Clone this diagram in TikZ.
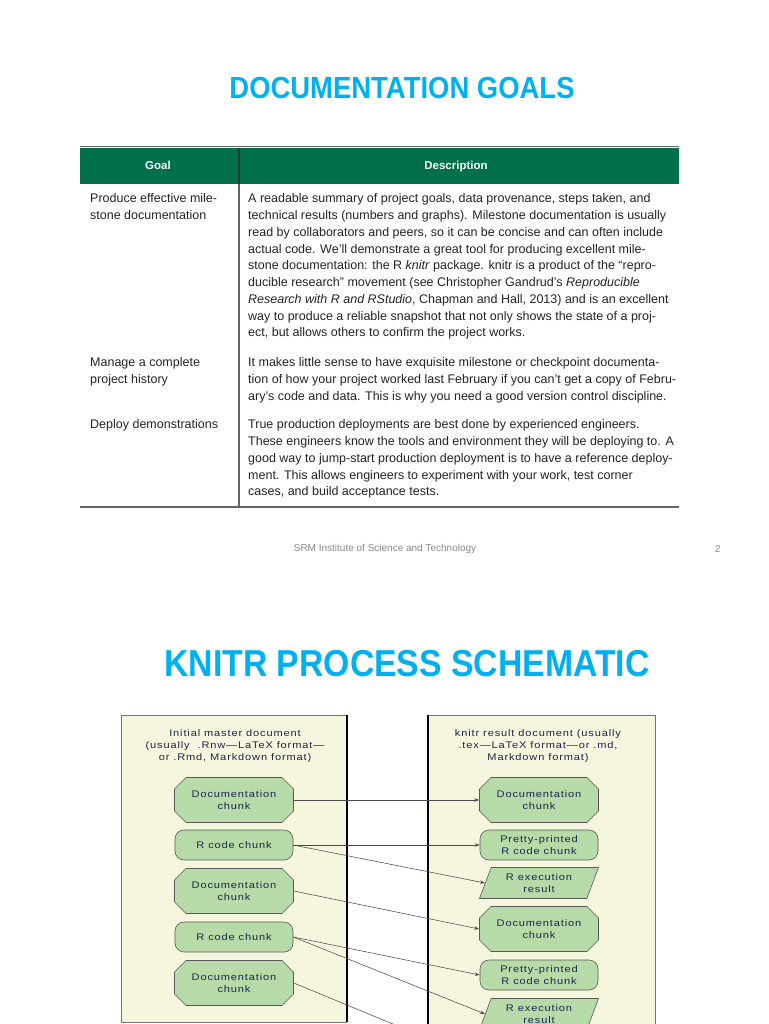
\documentclass[tikz,border=0pt]{standalone}
\usepackage{fontspec}
\setmainfont{Liberation Sans}
\newfontfamily\headfont{Liberation Sans}[FakeStretch=0.9]
\newfontfamily\chartfont{Liberation Sans}[FakeStretch=1.15,LetterSpace=9]
\usetikzlibrary{shapes.misc,shapes.geometric,arrows.meta}
\definecolor{slidecyan}{RGB}{0,176,240}
\definecolor{tablegreen}{RGB}{0,112,74}
\definecolor{rulegray}{RGB}{100,100,100}
\definecolor{bodygray}{RGB}{35,35,35}
\definecolor{footgray}{RGB}{137,137,137}
\definecolor{panelcream}{RGB}{246,246,222}
\definecolor{chunkgreen}{RGB}{183,219,168}
\definecolor{inkblue}{RGB}{30,35,80}

\begin{document}
\begin{tikzpicture}[x=1pt, y=-1pt,
        slidetitle/.style={text=slidecyan, inner sep=0pt},
        headcell/.style={anchor=base, text=white, font=\bfseries\fontsize{11.5}{13}\selectfont},
        cell/.style={anchor=north west, inner sep=0pt, align=left, text=bodygray, font=\fontsize{12.5}{16.75}\selectfont},
        footer/.style={text=footgray, font=\fontsize{10}{12}\selectfont},
        paneltext/.style={align=center, text=inkblue, font=\chartfont\fontsize{9.6}{12}\selectfont},
        chunk/.style={draw=black!65, line width=.6pt, fill=chunkgreen, text=inkblue, align=center, inner sep=1pt, font=\chartfont\fontsize{9.6}{12}\selectfont},
        docchunk/.style={chunk, chamfered rectangle, chamfered rectangle xsep=8pt, minimum width=119pt, minimum height=45pt},
        codechunk/.style={chunk, rectangle, rounded corners=9pt, minimum width=118pt, minimum height=30pt},
        resultchunk/.style={chunk, trapezium, trapezium left angle=61, trapezium right angle=119, trapezium stretches body, minimum width=119pt, minimum height=31pt},
        link/.style={draw=black!70, line width=.55pt, -{Stealth[length=5pt,width=3.5pt]}}
    ]
    \useasboundingbox (0,0) rectangle (768,1024);
    \clip (0,0) rectangle (768,1024);

    % first slide: goals table
    \node[slidetitle, font=\headfont\bfseries\fontsize{30.5}{30.5}\selectfont] (goalstitle) at (402,88) {DOCUMENTATION GOALS};

    \draw[rulegray, line width=1pt] (80,147) -- (679,147);
    \fill[tablegreen] (80,148) rectangle (679,184);
    \draw[black!80, line width=1.2pt] (239,148) -- (239,184);
    \draw[rulegray, line width=1.5pt] (239,184) -- (239,507);
    \draw[rulegray, line width=1.5pt] (80,507) -- (679,507);
    \node[headcell] (goalhead) at (158,170) {Goal};
    \node[headcell] (deschead) at (456,170) {Description};

    \node[cell] (goalA) at (90,193.5) {Produce effective mile-\\stone documentation};
    \node[cell] (descA) at (248,193.5) {A readable summary of project goals, data provenance, steps taken, and\\
        technical results (numbers and graphs). Milestone documentation is usually\\
        read by collaborators and peers, so it can be concise and can often include\\
        actual code. We’ll demonstrate a great tool for producing excellent mile-\\
        stone documentation: the R \textit{knitr} package. knitr is a product of the “repro-\\
        ducible research” movement (see Christopher Gandrud’s \textit{Reproducible}\\
        \textit{Research with R and RStudio}, Chapman and Hall, 2013) and is an excellent\\
        way to produce a reliable snapshot that not only shows the state of a proj-\\
        ect, but allows others to confirm the project works.};
    \node[cell] (goalB) at (90,357.5) {Manage a complete\\project history};
    \node[cell] (descB) at (248,357.5) {It makes little sense to have exquisite milestone or checkpoint documenta-\\
        tion of how your project worked last February if you can’t get a copy of Febru-\\
        ary’s code and data. This is why you need a good version control discipline.};
    \node[cell] (goalC) at (90,419.5) {Deploy demonstrations};
    \node[cell] (descC) at (248,419.5) {True production deployments are best done by experienced engineers.\\
        These engineers know the tools and environment they will be deploying to. A\\
        good way to jump-start production deployment is to have a reference deploy-\\
        ment. This allows engineers to experiment with your work, test corner\\
        cases, and build acceptance tests.};

    \node[footer] (footnote) at (385,549) {SRM Institute of Science and Technology};
    \node[footer] (pagenum) at (718,549) {2};

    % second slide: knitr schematic
    \node[slidetitle, font=\headfont\bfseries\fontsize{37.5}{37.5}\selectfont] (knitrtitle) at (407,664) {KNITR PROCESS SCHEMATIC};

    \fill[panelcream] (121,715) rectangle (347,1022);
    \draw[black!55, line width=.6pt] (347,715) -- (121,715) -- (121,1022) -- (347,1022);
    \draw[black, line width=1.5pt] (347,715) -- (347,1022);
    \fill[panelcream] (428,715) rectangle (655,1040);
    \draw[black!55, line width=.6pt] (428,715) -- (655,715) -- (655,1040);
    \draw[black, line width=1.5pt] (428,715) -- (428,1040);

    \node[paneltext] (masterhead) at (235,746) {Initial master document\\(usually\ \ .Rnw—LaTeX format—\\or .Rmd, Markdown format)};
    \node[paneltext] (resulthead) at (538,746) {knitr result document (usually\\.tex—LaTeX format—or .md,\\Markdown format)};

    \node[docchunk] (srcdocA) at (234,800) {Documentation\\chunk};
    \node[codechunk] (srccodeA) at (234,845) {R code chunk};
    \node[docchunk] (srcdocB) at (234,891) {Documentation\\chunk};
    \node[codechunk] (srccodeB) at (234,937) {R code chunk};
    \node[docchunk] (srcdocC) at (234,983) {Documentation\\chunk};

    \node[docchunk] (outdocA) at (539,800) {Documentation\\chunk};
    \node[codechunk] (outcodeA) at (539,845) {Pretty-printed\\R code chunk};
    \node[resultchunk] (outresA) at (539,883) {R execution\\result};
    \node[docchunk] (outdocB) at (539,929) {Documentation\\chunk};
    \node[codechunk] (outcodeB) at (539,975) {Pretty-printed\\R code chunk};
    \node[resultchunk] (outresB) at (539,1014) {R execution\\result};
    \coordinate (outdocC) at (480,1060);

    \draw[link] (srcdocA.east) -- (outdocA.west);
    \draw[link] (srccodeA.east) -- (outcodeA.west);
    \draw[link] (srccodeA.east) -- (outresA.west);
    \draw[link] (srcdocB.east) -- (outdocB.west);
    \draw[link] (srccodeB.east) -- (outcodeB.west);
    \draw[link] (srccodeB.east) -- (outresB.west);
    \draw[link] (srcdocC.east) -- (outdocC);
\end{tikzpicture}
\end{document}
